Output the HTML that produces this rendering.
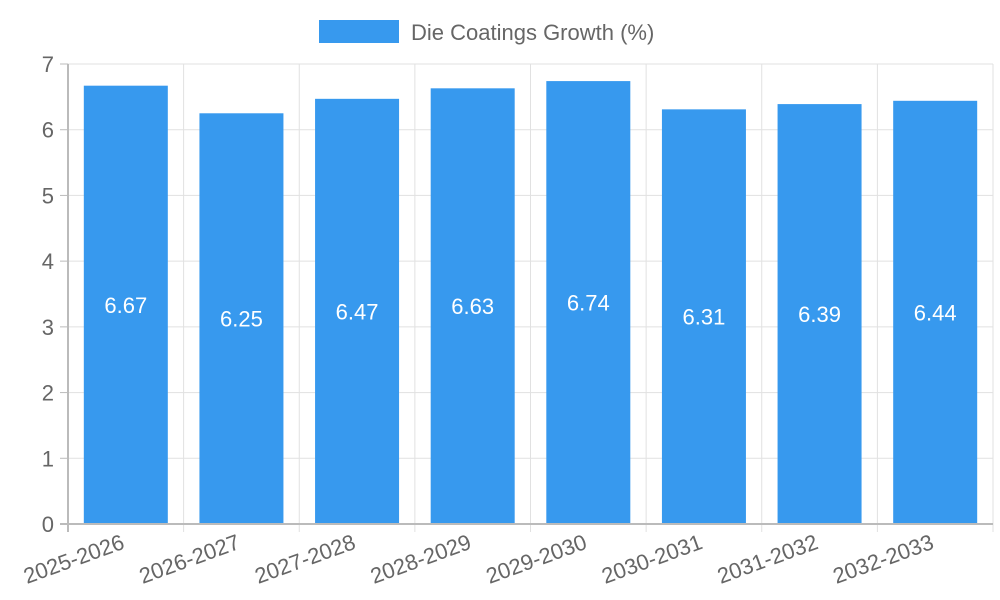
<!DOCTYPE html>
<html><head><meta charset="utf-8"><style>
html,body{margin:0;padding:0;background:#fff;}
svg{display:block;font-family:"Liberation Sans",sans-serif;}
</style></head><body>
<svg id="chart" width="1000" height="600" viewBox="0 0 1000 600" xmlns="http://www.w3.org/2000/svg">
<g>
<rect x="319" y="20" width="80" height="23" fill="#3799ee"/>
<text x="411" y="40" font-size="22" fill="#666">Die Coatings Growth (%)</text>
</g>
<g id="grid"></g>
<g id="bars"></g>
<g id="axes"></g>
</svg>
<script>
const categories = ["2025-2026","2026-2027","2027-2028","2028-2029","2029-2030","2030-2031","2031-2032","2032-2033"];
const values = [6.67,6.25,6.47,6.63,6.74,6.31,6.39,6.44];
const yTicks = [0,1,2,3,4,5,6,7];

const NS = "http://www.w3.org/2000/svg";
const L = 68, R = 993, T = 64, B = 524, yMax = 7;
const bw = (R - L) / categories.length;
function xScale(i){ return L + bw * i; }
function yScale(v){ return B - (v / yMax) * (B - T); }
function mk(tag, attrs, parent){
  const e = document.createElementNS(NS, tag);
  for (const k in attrs) e.setAttribute(k, attrs[k]);
  parent.appendChild(e); return e;
}
const grid = document.getElementById('grid');
const bars = document.getElementById('bars');
const axes = document.getElementById('axes');

yTicks.forEach(t => {
  const y = yScale(t);
  if (t > 0) {
    const gl = mk('line', {x1:L, x2:R, y1:y, y2:y, stroke:'#e1e1e1', 'stroke-width':1}, grid);
    
    
  }
  const tk = mk('line', {x1:L-8, x2:L, y1:y, y2:y, stroke:'#bbb', 'stroke-width':1}, axes);
  
  
  const lb = mk('text', {x:L-14, y:y+8, 'text-anchor':'end', 'font-size':22, fill:'#666'}, axes);
  lb.textContent = t;
  
  
});
for (let i = 1; i <= categories.length; i++) {
  const x = xScale(i);
  const vl = mk('line', {x1:x, x2:x, y1:T, y2:B+8, stroke:'#e1e1e1', 'stroke-width':1}, grid);
  
  
}
categories.forEach((c, i) => {
  const cx = xScale(i) + bw / 2;
  const w = 84;
  const y = yScale(values[i]);
  const r = mk('rect', {x:cx - w/2, y:y, width:w, height:B - y, fill:'#3799ee'}, bars);
  
  
  const vt = mk('text', {x:cx, y:(y + B)/2 + 8, 'text-anchor':'middle', 'font-size':22, fill:'#fff'}, bars);
  vt.textContent = values[i].toFixed(2);
  
  
  const xl = mk('text', {x:cx, y:548, 'text-anchor':'end', 'font-size':22, fill:'#666', transform:'rotate(-20 ' + cx + ' 548)'}, axes);
  xl.textContent = c;
  
  
});
const ya = mk('line', {x1:L, x2:L, y1:T, y2:B+8, stroke:'#bbb', 'stroke-width':2}, axes);


const xa = mk('line', {x1:L-8, x2:R, y1:B, y2:B, stroke:'#bbb', 'stroke-width':2}, axes);


</script>
</body></html>
